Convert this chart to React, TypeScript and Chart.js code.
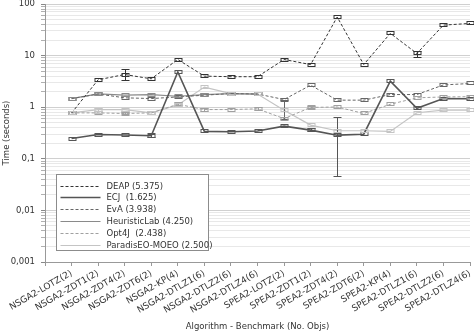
import React, { useEffect, useRef } from "react";
import { Chart, registerables } from "chart.js";

Chart.register(...registerables);

const categories = [
  "NSGA2-LOTZ(2)", "NSGA2-ZDT1(2)", "NSGA2-ZDT4(2)", "NSGA2-ZDT6(2)",
  "NSGA2-KP(4)", "NSGA2-DTLZ1(6)", "NSGA2-DTLZ2(6)", "NSGA2-DTLZ4(6)",
  "SPEA2-LOTZ(2)", "SPEA2-ZDT1(2)", "SPEA2-ZDT4(2)", "SPEA2-ZDT6(2)",
  "SPEA2-KP(4)", "SPEA2-DTLZ1(6)", "SPEA2-DTLZ2(6)", "SPEA2-DTLZ4(6)",
];

const seriesNames = [
  "DEAP (5.375)", "ECJ  (1.625)", "EvA (3.938)",
  "HeuristicLab (4.250)", "Opt4J  (2.438)", "ParadisEO-MOEO (2.500)",
];

const deap = [0.77, 3.4, 4.3, 3.55, 8.4, 4.0, 3.9, 3.9, 8.4, 6.7, 56, 6.7, 27, 11, 39, 42];
const ecj = [0.247, 0.295, 0.29, 0.28, 4.8, 0.34, 0.335, 0.345, 0.43, 0.36, 0.287, 0.3, 3.2, 0.95, 1.47, 1.46];
const eva = [1.47, 1.8, 1.52, 1.47, 1.58, 1.71, 1.84, 1.8, 1.41, 2.67, 1.37, 1.37, 1.76, 1.76, 2.7, 2.88];
const heuristicLab = [1.47, 1.81, 1.71, 1.76, 1.63, 1.76, 1.84, 1.8, null, null, null, null, null, null, null, null];
const opt4j = [0.776, 0.776, 0.755, 0.776, 1.14, 0.9, 0.9, 0.93, 0.6, 0.99, 1.01, 0.755, 1.14, 1.52, 1.58, 1.6];
const paradiseo = [0.776, 0.9, 0.9, 0.776, 1.1, 2.45, 1.84, 1.8, 0.87, 0.45, 0.35, 0.35, 0.34, 0.78, 0.875, 0.875];

// error ranges [low, high] (null where none visible)
const deapErr = [null, null, [3.3, 5.5], null, null, null, null, null, null, null, null, null, null, [9.5, 12.2], null, null];
const ecjErr = [null, null, null, [0.26, 0.31], null, null, null, null, null, [0.34, 0.39], [0.046, 0.66], null, null, null, null, null];
const evaErr = [null, null, null, null, null, null, null, null, [0.6, 1.41], null, null, null, null, null, null, null];
const heuristicLabErr = [null, null, null, null, null, null, null, null, null, null, null, null, null, null, null, null];
const opt4jErr = [null, null, [0.7, 0.82], null, [1.05, 1.25], [0.84, 0.96], null, [0.87, 1.0], null, [0.92, 1.07], null, null, null, null, null, null];
const paradiseoErr = [null, [0.78, 0.98], null, null, null, null, null, null, null, null, null, null, null, null, null, null];

const yTickValues = [0.001, 0.01, 0.1, 1, 10, 100];

const FONT = "'DejaVu Sans', sans-serif";

const seriesValues = [deap, ecj, eva, heuristicLab, opt4j, paradiseo];
const seriesErrors = [deapErr, ecjErr, evaErr, heuristicLabErr, opt4jErr, paradiseoErr];
const seriesColors = ["#333333", "#555555", "#666666", "#8a8a8a", "#a0a0a0", "#c4c4c4"];
const seriesDash = [[3, 2], [], [3, 2], [], [3, 2], []];
const seriesWidth = [1, 1.6, 1, 1.2, 1, 1.2];

const errorBarPlugin = {
  id: "errorBars",
  afterDatasetsDraw(chart: any) {
    const ctx = chart.ctx;
    const xs = chart.scales.x;
    const ys = chart.scales.y;
    ctx.save();
    chart.data.datasets.forEach((ds: any, di: number) => {
      const errs = seriesErrors[di];
      ctx.strokeStyle = ds.borderColor;
      ctx.lineWidth = 1;
      ctx.setLineDash([]);
      ds.data.forEach((pt: any, i: number) => {
        if (!pt || pt.y == null) return;
        const px = Math.round(xs.getPixelForValue(pt.x)) + 0.5;
        const py = ys.getPixelForValue(pt.y);
        const e = errs[i] as number[] | null;
        if (e) {
          const pl = Math.round(ys.getPixelForValue(e[0])) + 0.5;
          const ph = Math.round(ys.getPixelForValue(e[1])) + 0.5;
          ctx.beginPath();
          ctx.moveTo(px, pl); ctx.lineTo(px, ph);
          ctx.moveTo(px - 4, pl); ctx.lineTo(px + 4, pl);
          ctx.moveTo(px - 4, ph); ctx.lineTo(px + 4, ph);
          ctx.stroke();
        }
        ctx.strokeRect(px - 3.5, Math.round(py) - 1.5, 7, 3);
      });
    });
    ctx.restore();
  },
};

const legendPlugin = {
  id: "boxLegend",
  afterDraw(chart: any) {
    const ctx = chart.ctx;
    const ca = chart.chartArea;
    const w = 152, h = 76;
    const left = Math.round(ca.left + 11) + 0.5;
    const top = Math.round(ca.bottom - 12 - h) + 0.5;
    ctx.save();
    ctx.fillStyle = "#ffffff";
    ctx.fillRect(left, top, w, h);
    ctx.strokeStyle = "#8c8c8c";
    ctx.lineWidth = 1;
    ctx.setLineDash([]);
    ctx.strokeRect(left, top, w, h);
    ctx.font = `8.5px ${FONT}`;
    ctx.textBaseline = "middle";
    ctx.textAlign = "left";
    chart.data.datasets.forEach((ds: any, i: number) => {
      const yy = Math.round(top + 11 + i * 11.8) + 0.5;
      ctx.strokeStyle = ds.borderColor;
      ctx.lineWidth = ds.borderWidth;
      ctx.setLineDash(ds.borderDash || []);
      ctx.beginPath();
      ctx.moveTo(left + 4, yy);
      ctx.lineTo(left + 44, yy);
      ctx.stroke();
      ctx.fillStyle = "#333333";
      ctx.fillText(ds.label, left + 50, yy);
    });
    ctx.restore();
  },
};

export default function App() {
  const canvasRef = useRef<HTMLCanvasElement | null>(null);

  useEffect(() => {
    document.body.style.margin = "0";
    const canvas = canvasRef.current;
    if (!canvas) return;
    const datasets = seriesValues.map((vals, si) => ({
      label: seriesNames[si],
      data: vals.map((v, i) => ({ x: i + 1, y: v })),
      borderColor: seriesColors[si],
      backgroundColor: seriesColors[si],
      borderDash: seriesDash[si],
      borderWidth: seriesWidth[si],
      pointRadius: 0,
      tension: 0,
      spanGaps: false,
      fill: false,
    }));
    const chart = new Chart(canvas, {
      type: "line",
      data: { datasets },
      plugins: [errorBarPlugin, legendPlugin],
      options: {
        animation: false,
        responsive: false,
        maintainAspectRatio: false,
        layout: { padding: { top: 4, right: 4, left: 0, bottom: 0 } },
        plugins: { legend: { display: false }, tooltip: { enabled: false } },
        scales: {
          x: {
            type: "linear",
            min: 0,
            max: categories.length,
            afterFit: (s: any) => { s.height = 71; s.paddingLeft = 0; s.paddingRight = 0; },
            border: { color: "#999999" },
            grid: { drawOnChartArea: false, drawTicks: true, tickLength: 4, tickColor: "#999999" },
            ticks: {
              stepSize: 1,
              autoSkip: false,
              maxRotation: 30,
              minRotation: 30,
              padding: 2,
              color: "#333333",
              font: { family: FONT, size: 9 },
              callback: (v: any) => categories[Number(v) - 1] ?? "",
            },
            title: {
              display: true,
              text: "Algorithm - Benchmark (No. Objs)",
              color: "#333333",
              font: { family: FONT, size: 8.5 },
              padding: { top: 0, bottom: 1 },
            },
          },
          y: {
            type: "logarithmic",
            min: 0.001,
            max: 100,
            afterFit: (s: any) => { s.width = 45; s.paddingTop = 0; s.paddingBottom = 0; },
            border: { color: "#999999" },
            grid: {
              color: (c: any) => {
                const l = Math.log10(c.tick?.value ?? 1);
                return Math.abs(l - Math.round(l)) < 1e-6 ? "#d0d0d0" : "#e8e8e8";
              },
              tickColor: (c: any) => {
                const l = Math.log10(c.tick?.value ?? 1);
                return Math.abs(l - Math.round(l)) < 1e-6 ? "#888888" : "#b0b0b0";
              },
              tickLength: 4,
            },
            afterBuildTicks: (s: any) => {
              const t: any[] = [];
              for (let e = -3; e <= 2; e++) {
                for (let m = 1; m <= 9; m++) {
                  const v = m * Math.pow(10, e);
                  if (v > 100.0001) break;
                  t.push({ value: Number(v.toPrecision(6)) });
                }
              }
              s.ticks = t;
            },
            ticks: {
              autoSkip: false,
              padding: 6,
              color: "#333333",
              font: { family: FONT, size: 8.5 },
              callback: (v: any) => {
                const n = Number(v);
                if (yTickValues.some((t) => Math.abs(t - n) / t < 1e-6)) {
                  return String(n).replace(".", ",");
                }
                return "";
              },
            },
            title: {
              display: true,
              text: "Time (seconds)",
              color: "#333333",
              font: { family: FONT, size: 8.5 },
              padding: { top: 2, bottom: 0 },
            },
          },
        },
      } as any,
    });
    return () => chart.destroy();
  }, []);

  return (
    <div style={{ width: 474, height: 333 }}>
      <canvas ref={canvasRef} width={474} height={333} style={{ display: "block" }} />
    </div>
  );
}
